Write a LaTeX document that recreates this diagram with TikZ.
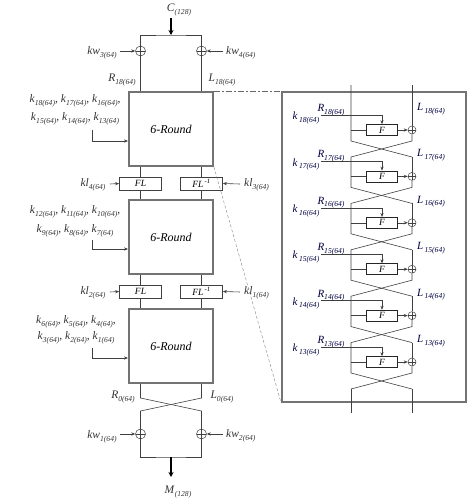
\documentclass[tikz,border=0pt]{standalone}
\usepackage{fontspec}
\setmainfont{Liberation Serif}
\usetikzlibrary{arrows.meta}
\newcommand{\lb}[2]{\textit{#1}\raisebox{-0.5ex}{\fontsize{7.6}{8}\selectfont\itshape #2}}
\tikzset{
  rbox/.style={draw=black!55, line width=1.8pt, minimum width=84pt, minimum height=74pt, inner sep=0pt, font=\fontsize{12}{13}\selectfont\itshape},
  flbox/.style={draw=black!75, line width=0.7pt, minimum width=42pt, minimum height=13pt, inner sep=0pt, font=\fontsize{9.5}{10}\selectfont\itshape},
  fbox/.style={draw=black!85, line width=0.6pt, minimum width=31pt, minimum height=11pt, inner sep=0pt, font=\fontsize{9.5}{10}\selectfont\itshape},
  xor/.style={circle, draw=black!75, line width=0.5pt, minimum size=10pt, inner sep=0pt,
    path picture={\draw[black!75,line width=0.5pt] (path picture bounding box.north) -- (path picture bounding box.south) (path picture bounding box.west) -- (path picture bounding box.east);}},
  lbl/.style={font=\fontsize{11.5}{12}\selectfont, text=black!80, inner sep=0pt},
  plbl/.style={font=\fontsize{11}{12}\selectfont, text=blue!25!black, inner sep=0pt},
  wire/.style={draw=black!75, line width=0.6pt},
  arr/.style={wire, -{Stealth[length=4pt,width=3.2pt]}},
  bigarr/.style={draw=black, line width=1.6pt, -{Stealth[length=5pt,width=5pt]}},
}
\begin{document}
\begin{tikzpicture}[x=1pt,y=-1pt]
\useasboundingbox (0,0) rectangle (474,503);
% ---------- left column ----------
\node[lbl] (C) at (179,10) {\lb{C}{(128)}};
\coordinate (cin) at (171,18);
\coordinate (topc) at (171,35);
\draw[bigarr] (cin) -- (topc);
\node[xor] (x3) at (140.5,51) {};
\node[xor] (x4) at (201.5,51) {};
\draw[wire] (x3.north) |- (topc) -| (x4.north);
\node[lbl] (kw3) at (102,53) {\lb{kw}{3(64)}};
\node[lbl,anchor=west] (kw4) at (226,53) {\lb{kw}{4(64)}};
\coordinate (kw3e) at (120,51);
\coordinate (kw4e) at (223,51);
\draw[arr] (kw3e) -- (x3.west);
\draw[arr] (kw4e) -- (x4.east);
\node[lbl] (R18) at (122,80) {\lb{R}{18(64)}};
\node[lbl] (L18) at (222,80) {\lb{L}{18(64)}};

\node[rbox] (b1) at (171,129) {6-Round};
\node[rbox] (b2) at (171,237) {6-Round};
\node[rbox] (b3) at (171,346) {6-Round};
\draw[wire] (x3.south) -- (b1.north -| x3);
\draw[wire] (x4.south) -- (b1.north -| x4);

\node[flbox] (fl1) at (140.5,183.5) {FL};
\node[flbox] (fi1) at (201.5,183.5) {FL\textsuperscript{\,-1}};
\node[flbox] (fl2) at (140.5,291.5) {FL};
\node[flbox] (fi2) at (201.5,291.5) {FL\textsuperscript{\,-1}};
\foreach \a/\b/\c in {b1/fl1/b2, b1/fi1/b2, b2/fl2/b3, b2/fi2/b3}{
  \draw[wire] (\a.south -| \b) -- (\b.north);
  \draw[wire] (\b.south) -- (\c.north -| \b);
}
\node[lbl] (kl4) at (93,185) {\lb{kl}{4(64)}};
\node[lbl,anchor=west] (kl3) at (244,185) {\lb{kl}{3(64)}};
\node[lbl] (kl2) at (93,293) {\lb{kl}{2(64)}};
\node[lbl,anchor=west] (kl1) at (244,293) {\lb{kl}{1(64)}};
\coordinate (kl4e) at (110,184); \coordinate (kl3e) at (240,184);
\coordinate (kl2e) at (110,292); \coordinate (kl1e) at (240,292);
\draw[arr] (kl4e) -- (fl1.west);
\draw[arr] (kl3e) -- (fi1.east);
\draw[arr] (kl2e) -- (fl2.west);
\draw[arr] (kl1e) -- (fi2.east);

% key lists
\node[lbl] (k1a) at (75,101) {\lb{k}{18(64)}, \lb{k}{17(64)}, \lb{k}{16(64)},};
\node[lbl] (k1b) at (75,119) {\lb{k}{15(64)}, \lb{k}{14(64)}, \lb{k}{13(64)}};
\node[lbl] (k2a) at (75,212) {\lb{k}{12(64)}, \lb{k}{11(64)}, \lb{k}{10(64)},};
\node[lbl] (k2b) at (75,231) {\lb{k}{9(64)}, \lb{k}{8(64)}, \lb{k}{7(64)}};
\node[lbl] (k3a) at (76,322) {\lb{k}{6(64)}, \lb{k}{5(64)}, \lb{k}{4(64)},};
\node[lbl] (k3b) at (76,338) {\lb{k}{3(64)}, \lb{k}{2(64)}, \lb{k}{1(64)}};
\coordinate (a1s) at (92,130); \coordinate (a1e) at (128,141);
\coordinate (a2s) at (92,240); \coordinate (a2e) at (128,249);
\coordinate (a3s) at (92,348); \coordinate (a3e) at (128,358);
\draw[arr] (a1s) |- (a1e);
\draw[arr] (a2s) |- (a2e);
\draw[arr] (a3s) |- (a3e);

% bottom
\node[lbl] (R0) at (123,397) {\lb{R}{0(64)}};
\node[lbl] (L0) at (222,397) {\lb{L}{0(64)}};
\node[xor] (x1) at (140.5,434) {};
\node[xor] (x2) at (201.5,434) {};
\coordinate (cl1) at (140.5,398); \coordinate (cr1) at (201.5,398);
\coordinate (cl2) at (140.5,411); \coordinate (cr2) at (201.5,411);
\draw[wire] (b3.south -| cl1) -- (cl1) -- (cr2) -- (x2.north);
\draw[wire] (b3.south -| cr1) -- (cr1) -- (cl2) -- (x1.north);
\coordinate (botc) at (171,457);
\coordinate (mout) at (171,477);
\draw[wire] (x1.south) |- (botc) -| (x2.south);
\draw[bigarr] (botc) -- (mout);
\node[lbl] (kw1) at (102,437) {\lb{kw}{1(64)}};
\node[lbl,anchor=west] (kw2) at (226,436) {\lb{kw}{2(64)}};
\coordinate (kw1e) at (120,434); \coordinate (kw2e) at (223,434);
\draw[arr] (kw1e) -- (x1.west);
\draw[arr] (kw2e) -- (x2.east);
\node[lbl] (M) at (178,492) {\lb{M}{(128)}};

% ---------- right panel ----------
\node[draw=black!55, line width=1.8pt, minimum width=184pt, minimum height=310pt, inner sep=0pt] (panel) at (374,247) {};
\draw[black!60, line width=0.5pt, dash pattern=on 6pt off 2pt on 2pt off 2pt] (b1.north east) -- (panel.north west);
\draw[black!50, line width=0.4pt, densely dashed] (b1.south east) -- (panel.south west);
\coordinate (LW) at (351,0);
\coordinate (RW) at (412,0);
\foreach \i/\n in {0/18,1/17,2/16,3/15,4/14,5/13}{
  \pgfmathsetmacro\c{130+46.4*\i}
  \pgfmathsetmacro\ys{\i==0 ? 85 : 130+46.4*(\i-1)+27}
  \node[fbox] (F\i) at (382,\c) {F};
  \node[xor,minimum size=8pt] (X\i) at (412,\c) {};
  \draw[wire] (F\i.west -| LW) -- (F\i.west);
  \draw[arr] (F\i.east) -- (X\i.west);
  \coordinate (ks\i) at (321,\c-15);
  \draw[arr] (ks\i) -| (F\i.north);
  \node[plbl] (R\n) at (331,\c-20) {\lb{R}{\n(64)}};
  \node[plbl] (k\n) at (306,\c-12) {\lb{k}{\,\n(64)}};
  \node[plbl,anchor=west] (L\n) at (417,\c-21) {\lb{L}{\,\n(64)}};
  \coordinate (lt\i) at (351,\ys);
  \coordinate (rt\i) at (412,\ys);
  \coordinate (lm\i) at (351,\c+11);
  \coordinate (rm\i) at (412,\c+11);
  \coordinate (lb\i) at (351,\c+27);
  \coordinate (rb\i) at (412,\c+27);
  \draw[wire] (lt\i) -- (lm\i) -- (rb\i);
  \draw[wire] (rt\i) -- (X\i.north);
  \draw[wire] (X\i.south) -- (rm\i) -- (lb\i);
}
\coordinate (lend) at (351,413);
\coordinate (rend) at (412,413);
\draw[wire] (lb5) -- (lend);
\draw[wire] (rb5) -- (rend);
\end{tikzpicture}
\end{document}
